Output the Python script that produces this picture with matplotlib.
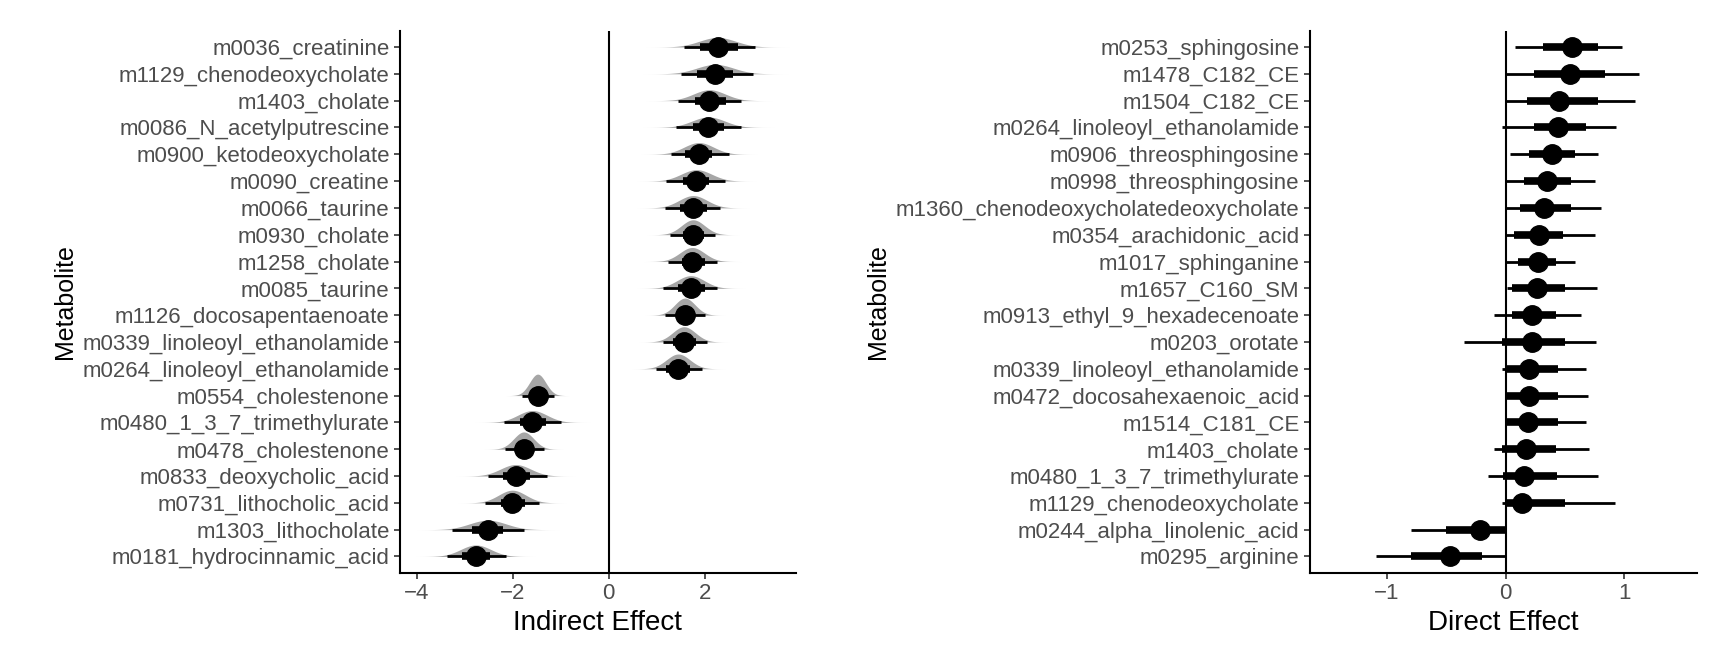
import numpy as np
import matplotlib
matplotlib.use("Agg")
import matplotlib.pyplot as plt

plt.rcParams["font.family"] = ["Liberation Sans", "DejaVu Sans"]

# indirect effects (top to bottom): median, 66% interval, 95% interval
ind_names = ["m0036_creatinine", "m1129_chenodeoxycholate", "m1403_cholate",
             "m0086_N_acetylputrescine", "m0900_ketodeoxycholate", "m0090_creatine",
             "m0066_taurine", "m0930_cholate", "m1258_cholate", "m0085_taurine",
             "m1126_docosapentaenoate", "m0339_linoleoyl_ethanolamide",
             "m0264_linoleoyl_ethanolamide", "m0554_cholestenone",
             "m0480_1_3_7_trimethylurate", "m0478_cholestenone", "m0833_deoxycholic_acid",
             "m0731_lithocholic_acid", "m1303_lithocholate", "m0181_hydrocinnamic_acid"]
ind_med = [2.27, 2.22, 2.10, 2.08, 1.88, 1.83, 1.76, 1.76, 1.74, 1.71,
           1.59, 1.57, 1.45, -1.48, -1.59, -1.77, -1.94, -2.01, -2.52, -2.77]
ind_lo95 = [1.57, 1.50, 1.45, 1.40, 1.29, 1.19, 1.17, 1.27, 1.24, 1.13,
            1.17, 1.13, 0.98, -1.80, -2.19, -2.17, -2.52, -2.57, -3.26, -3.38]
ind_hi95 = [3.05, 3.00, 2.75, 2.75, 2.50, 2.43, 2.32, 2.22, 2.25, 2.25,
            2.00, 2.06, 1.94, -1.14, -1.00, -1.35, -1.29, -1.45, -1.77, -2.15]
ind_lo66 = [1.90, 1.85, 1.80, 1.75, 1.60, 1.55, 1.48, 1.55, 1.52, 1.45,
            1.40, 1.35, 1.20, -1.62, -1.85, -1.95, -2.20, -2.25, -2.85, -3.05]
ind_hi66 = [2.70, 2.60, 2.45, 2.40, 2.15, 2.10, 2.04, 1.98, 2.00, 2.00,
            1.80, 1.82, 1.70, -1.30, -1.30, -1.55, -1.65, -1.75, -2.20, -2.48]

dir_names = ["m0253_sphingosine", "m1478_C182_CE", "m1504_C182_CE",
             "m0264_linoleoyl_ethanolamide", "m0906_threosphingosine",
             "m0998_threosphingosine", "m1360_chenodeoxycholatedeoxycholate",
             "m0354_arachidonic_acid", "m1017_sphinganine", "m1657_C160_SM",
             "m0913_ethyl_9_hexadecenoate", "m0203_orotate",
             "m0339_linoleoyl_ethanolamide", "m0472_docosahexaenoic_acid",
             "m1514_C181_CE", "m1403_cholate", "m0480_1_3_7_trimethylurate",
             "m1129_chenodeoxycholate", "m0244_alpha_linolenic_acid", "m0295_arginine"]
dir_med = [0.56, 0.54, 0.45, 0.44, 0.39, 0.35, 0.32, 0.28, 0.27, 0.26,
           0.22, 0.22, 0.20, 0.20, 0.19, 0.17, 0.15, 0.14, -0.22, -0.47]
dir_lo95 = [0.08, 0.00, 0.00, -0.03, 0.04, 0.00, 0.00, 0.00, 0.00, 0.01,
            -0.10, -0.35, -0.03, 0.00, -0.01, -0.10, -0.15, -0.03, -0.80, -1.09]
dir_hi95 = [0.98, 1.12, 1.09, 0.93, 0.78, 0.75, 0.80, 0.75, 0.58, 0.77,
            0.63, 0.76, 0.68, 0.69, 0.68, 0.70, 0.78, 0.92, 0.00, 0.00]
dir_lo66 = [0.31, 0.24, 0.18, 0.24, 0.20, 0.15, 0.12, 0.07, 0.10, 0.05,
            0.05, -0.03, 0.00, 0.00, 0.00, -0.03, -0.02, 0.00, -0.50, -0.80]
dir_hi66 = [0.78, 0.84, 0.78, 0.68, 0.58, 0.55, 0.55, 0.48, 0.42, 0.50,
            0.42, 0.50, 0.44, 0.44, 0.44, 0.42, 0.43, 0.50, 0.00, -0.20]


def halfeye(ax, names, med, lo66, hi66, lo95, hi95, slab):
    n = len(names)
    y = np.arange(n)[::-1]
    sds = [(h - l) / 3.92 for l, h in zip(lo95, hi95)]
    smin = min(sds)
    for yi, m, sd in zip(y, med, sds):
        if slab:
            xs = np.linspace(m - 4 * sd, m + 4 * sd, 200)
            d = np.exp(-0.5 * ((xs - m) / sd) ** 2) * 0.8 * smin / sd
            ax.fill_between(xs, yi, yi + d, color="#A6A6A6", lw=0, zorder=2)
    ax.hlines(y, lo95, hi95, color="black", lw=2, zorder=3)
    ax.hlines(y, lo66, hi66, color="black", lw=5.5, zorder=3)
    ax.plot(med, y, "o", color="black", ms=14, zorder=4)
    ax.axvline(0, color="black", lw=1.5, zorder=1)
    ax.set_yticks(y)
    ax.set_yticklabels(names)
    ax.set_ylim(-0.6, n - 0.4)
    ax.set_ylabel("Metabolite", fontsize=18)
    for s in ["top", "right"]:
        ax.spines[s].set_visible(False)
    for s in ["left", "bottom"]:
        ax.spines[s].set_linewidth(1.5)
    ax.tick_params(axis="both", labelsize=16, labelcolor="#4D4D4D", color="#333333",
                   width=1.2, length=4)


fig = plt.figure(figsize=(17.28, 6.72), dpi=100)
ax1 = fig.add_axes([0.2315, 0.148, 0.229, 0.806])
ax2 = fig.add_axes([0.758, 0.148, 0.224, 0.806])

halfeye(ax1, ind_names, ind_med, ind_lo66, ind_hi66, ind_lo95, ind_hi95, True)
ax1.set_xlim(-4.35, 3.9)
ax1.set_xticks([-4, -2, 0, 2])
ax1.set_xlabel("Indirect Effect", fontsize=20)

halfeye(ax2, dir_names, dir_med, dir_lo66, dir_hi66, dir_lo95, dir_hi95, False)
ax2.set_xlim(-1.65, 1.61)
ax2.set_xticks([-1, 0, 1])
ax2.set_xlabel("Direct Effect", fontsize=20)

fig.savefig("out.png", dpi=100)
